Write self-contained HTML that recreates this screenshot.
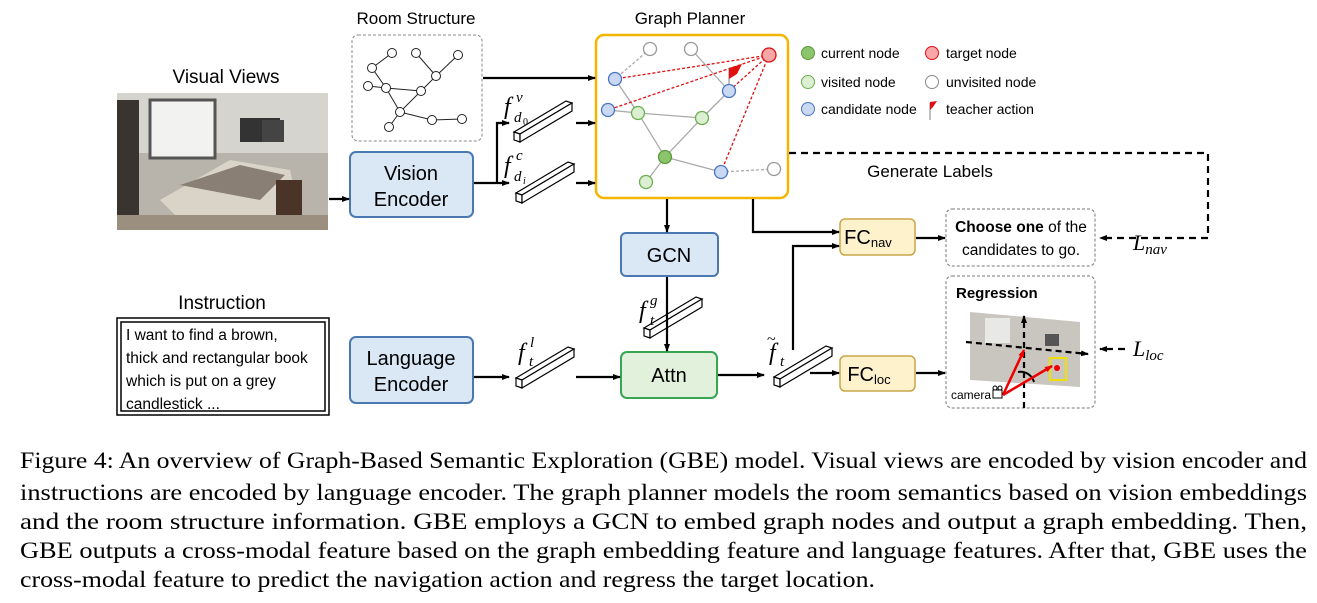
<!DOCTYPE html>
<html><head><meta charset="utf-8"><style>
html,body{margin:0;padding:0;background:#fff;}
svg{display:block}
.s{font-family:"Liberation Sans","DejaVu Sans",sans-serif;}
.r{font-family:"Liberation Serif",serif;}
</style></head><body>
<svg width="1317" height="603" viewBox="0 0 1317 603" xmlns="http://www.w3.org/2000/svg">
<defs>
<marker id="a" markerWidth="8" markerHeight="8" refX="7" refY="4" orient="auto" markerUnits="userSpaceOnUse"><path d="M0,1 L8,4 L0,7 z" fill="#000"/></marker>
<marker id="ar" markerWidth="8" markerHeight="8" refX="7" refY="4" orient="auto" markerUnits="userSpaceOnUse"><path d="M0,1 L8,4 L0,7 z" fill="#e00"/></marker>
</defs>
<g class="s" font-size="19" fill="#000" text-anchor="middle">
<text x="226" y="83">Visual Views</text>
<text x="416" y="24" font-size="17">Room Structure</text>
<text x="690" y="24" font-size="17">Graph Planner</text>
<text x="222" y="309">Instruction</text>
<text x="930" y="177" font-size="17">Generate Labels</text>
</g>
<!-- photo -->
<rect x="117" y="93" width="211" height="137" fill="#b9b4ab"/>
<rect x="117" y="93" width="211" height="60" fill="#d6d4cf"/>
<rect x="150" y="100" width="65" height="58" fill="#f2f3f1" stroke="#555" stroke-width="3"/>
<rect x="240" y="118" width="40" height="24" fill="#333"/>
<rect x="262" y="120" width="22" height="22" fill="#444"/>
<rect x="117" y="100" width="22" height="130" fill="#3a3430"/>
<path d="M160 200 L230 160 L290 170 L300 215 L190 230 Z" fill="#d9d3c8"/>
<path d="M180 185 L240 165 L285 175 L260 200 Z" fill="#8a7f74"/>
<rect x="276" y="180" width="26" height="38" fill="#4a3428"/>
<rect x="117" y="215" width="211" height="15" fill="#9b8f80"/>
<!-- room structure -->
<rect x="352" y="35" width="130" height="106" rx="6" fill="none" stroke="#888" stroke-dasharray="3,2"/>
<g stroke="#222" stroke-width="1" fill="none">
<path d="M392 53 L372 68 L386 88 M368 86 L386 88 L421 91 M386 88 L400 112 L421 91 L436 76 L416 53 M436 76 L458 55 M400 112 L389 127 M400 112 L432 120 L462 119"/>
</g>
<g fill="#fff" stroke="#222" stroke-width="1">
<circle cx="392" cy="53" r="4.5"/><circle cx="372" cy="68" r="4.5"/><circle cx="368" cy="86" r="4.5"/><circle cx="386" cy="88" r="4.5"/><circle cx="416" cy="53" r="4.5"/><circle cx="436" cy="76" r="4.5"/><circle cx="458" cy="55" r="4.5"/><circle cx="421" cy="91" r="4.5"/><circle cx="400" cy="112" r="4.5"/><circle cx="389" cy="127" r="4.5"/><circle cx="432" cy="120" r="4.5"/><circle cx="462" cy="119" r="4.5"/>
</g>
<!-- boxes -->
<g class="s" font-size="20" text-anchor="middle">
<rect x="350" y="152" width="123" height="65" rx="6" fill="#dae8f6" stroke="#4a78b0" stroke-width="2"/>
<text x="411" y="180">Vision</text><text x="411" y="206">Encoder</text>
<rect x="350" y="337" width="123" height="66" rx="6" fill="#dae8f6" stroke="#4a78b0" stroke-width="2"/>
<text x="411" y="365">Language</text><text x="411" y="391">Encoder</text>
<rect x="621" y="233" width="97" height="43" rx="5" fill="#dae8f6" stroke="#4a78b0" stroke-width="2"/>
<text x="669" y="262">GCN</text>
<rect x="621" y="352" width="96" height="46" rx="6" fill="#e2f1dc" stroke="#3aa455" stroke-width="2"/>
<text x="669" y="382">Attn</text>
<rect x="840" y="219" width="75" height="36" rx="5" fill="#fdf2cc" stroke="#c9a64a" stroke-width="1.5"/>
<text x="868" y="244">FC<tspan font-size="13" dy="3">nav</tspan></text>
<rect x="840" y="356" width="75" height="35" rx="5" fill="#fdf2cc" stroke="#c9a64a" stroke-width="1.5"/>
<text x="869" y="381">FC<tspan font-size="13" dy="3">loc</tspan></text>
</g>
<!-- instruction -->
<rect x="117" y="318" width="212" height="97" fill="#fff" stroke="#000" stroke-width="1.5"/>
<rect x="121" y="322" width="204" height="89" fill="none" stroke="#000" stroke-width="1.5"/>
<g class="s" font-size="15.5">
<text x="126" y="340">I want to find a brown,</text>
<text x="126" y="363">thick and rectangular book</text>
<text x="126" y="386">which is put on a grey</text>
<text x="126" y="409">candlestick ...</text>
</g>
<!-- graph planner -->
<rect x="596" y="35" width="192" height="163" rx="8" fill="#fff" stroke="#f2b600" stroke-width="2.5"/>
<g stroke="#aaa" stroke-width="1.3" fill="none">
<path d="M650 49 L615 79" stroke-dasharray="3,2"/>
<path d="M691 49 L729 91 M615 79 L638 113 M608 110 L638 113 L702 118 M638 113 L665 157 L702 118 L729 91 M665 157 L646 182 M665 157 L721 172"/>
<path d="M721 172 L774 169" stroke-dasharray="3,2"/>
</g>
<g stroke="#e01010" stroke-width="1.3" stroke-dasharray="3,2" fill="none">
<path d="M769 55 L615 79 M769 55 L608 110 M769 55 L729 91 M769 55 L721 172"/>
</g>
<line x1="729" y1="84" x2="729" y2="68" stroke="#aaa" stroke-width="1.5"/>
<path d="M729 68 L742 64 L737 74 L729 79 Z" fill="#e01010"/>
<g stroke-width="1.3">
<circle cx="650" cy="49" r="6.5" fill="#fff" stroke="#999"/>
<circle cx="691" cy="49" r="6.5" fill="#fff" stroke="#999"/>
<circle cx="774" cy="169" r="6.5" fill="#fff" stroke="#999"/>
<circle cx="769" cy="55" r="7" fill="#f8a6a6" stroke="#e01010"/>
<circle cx="615" cy="79" r="6.5" fill="#c9d9f2" stroke="#4a74c4"/>
<circle cx="608" cy="110" r="6.5" fill="#c9d9f2" stroke="#4a74c4"/>
<circle cx="729" cy="91" r="6.5" fill="#c9d9f2" stroke="#4a74c4"/>
<circle cx="721" cy="172" r="6.5" fill="#c9d9f2" stroke="#4a74c4"/>
<circle cx="638" cy="113" r="6.5" fill="#dcefd2" stroke="#6ab04c"/>
<circle cx="702" cy="118" r="6.5" fill="#dcefd2" stroke="#6ab04c"/>
<circle cx="646" cy="182" r="6.5" fill="#dcefd2" stroke="#6ab04c"/>
<circle cx="665" cy="157" r="6.5" fill="#8cc46b" stroke="#5a9a3c"/>
</g>
<!-- legend -->
<g class="s" font-size="14">
<circle cx="808" cy="53" r="6.5" fill="#8cc46b" stroke="#5a9a3c"/><text x="821" y="58">current node</text>
<circle cx="932" cy="53" r="6.5" fill="#f8a6a6" stroke="#e01010"/><text x="946" y="58">target node</text>
<circle cx="808" cy="82" r="6.5" fill="#dcefd2" stroke="#6ab04c"/><text x="821" y="87">visited node</text>
<circle cx="932" cy="82" r="6.5" fill="#fff" stroke="#888"/><text x="946" y="87">unvisited node</text>
<circle cx="808" cy="109" r="6.5" fill="#c9d9f2" stroke="#4a74c4"/><text x="821" y="114">candidate node</text>
<line x1="930" y1="103" x2="930" y2="120" stroke="#aaa" stroke-width="1.5"/><path d="M930 102 L937 101 L933 107 L930 110 Z" fill="#e01010"/>
<text x="946" y="114">teacher action</text>
</g>
<!-- feature bars -->
<g fill="#fff" stroke="#000" stroke-width="1.2">
<g id="bar"><path d="M514 132 L566 101 L572 103 L520 134 Z"/><path d="M514 132 L520 134 L520 142 L514 140 Z"/><path d="M520 134 L572 103 L572 111 L520 142 Z"/></g>
<use href="#bar" transform="translate(2,61)"/>
<use href="#bar" transform="translate(2,246)"/>
<use href="#bar" transform="translate(130,196)"/>
<use href="#bar" transform="translate(260,245)"/>
</g>
<g class="r" font-style="italic">
<text x="504" y="114" font-size="24">f</text><text x="516" y="102" font-size="15">v</text><text x="514" y="122" font-size="15">d</text><text x="523" y="125" font-size="10" font-style="normal">0</text>
<text x="504" y="173" font-size="24">f</text><text x="516" y="160" font-size="15">c</text><text x="514" y="181" font-size="15">d</text><text x="523" y="184" font-size="10">i</text>
<text x="518" y="360" font-size="24">f</text><text x="530" y="347" font-size="15">l</text><text x="529" y="366" font-size="15">t</text>
<text x="639" y="318" font-size="24">f</text><text x="650" y="305" font-size="15">g</text><text x="650" y="325" font-size="15">t</text>
<text x="769" y="360" font-size="24">f</text><text x="780" y="366" font-size="15">t</text><text x="767" y="344" font-size="16" font-style="normal">~</text>
<text x="1133" y="250" font-size="22">L<tspan font-size="15" dy="4">nav</tspan></text>
<text x="1133" y="356" font-size="22">L<tspan font-size="15" dy="4">loc</tspan></text>
</g>
<!-- arrows -->
<g stroke="#000" stroke-width="2.2" fill="none" marker-end="url(#a)">
<path d="M329 199 L349 199"/>
<path d="M483 78 L595 78"/>
<path d="M474 183 L509 183"/>
<path d="M497 183 L497 123 L509 123"/>
<path d="M576 123 L595 123"/>
<path d="M576 183 L595 183"/>
<path d="M667 199 L667 232"/>
<path d="M667 277 L667 351"/>
<path d="M474 377 L509 377"/>
<path d="M576 377 L620 377"/>
<path d="M718 375 L764 375"/>
<path d="M832 373 L839 373"/>
<path d="M753 199 L753 232 L839 232"/>
<path d="M793 350 L793 246 L839 246"/>
<path d="M916 238 L945 238"/>
<path d="M916 373 L945 373"/>
</g>
<path d="M810 373 L832 373" stroke="#000" stroke-width="2.2"/>
<g stroke="#000" stroke-width="2.2" fill="none" stroke-dasharray="7,5">
<path d="M789 153 L1208 153 L1208 238 L1100 238" marker-end="url(#a)"/>
<path d="M1125 349 L1100 349" marker-end="url(#a)"/>
</g>
<!-- output boxes -->
<rect x="946" y="209" width="149" height="57" rx="6" fill="#fff" stroke="#777" stroke-dasharray="3,2"/>
<g class="s" font-size="15.5" text-anchor="middle">
<text x="1021" y="232"><tspan font-weight="bold">Choose one</tspan> of the</text>
<text x="1021" y="255">candidates to go.</text>
</g>
<rect x="946" y="276" width="149" height="132" rx="6" fill="#fff" stroke="#777" stroke-dasharray="3,2"/>
<text x="956" y="298" class="s" font-size="15" font-weight="bold">Regression</text>
<path d="M970 312 L1080 322 L1080 387 L970 380 Z" fill="#c9c6c0"/>
<rect x="985" y="318" width="25" height="25" fill="#e8e8e6"/>
<rect x="1045" y="334" width="14" height="12" fill="#555"/>
<rect x="1050" y="358" width="16" height="22" fill="none" stroke="#f0e000" stroke-width="2"/>
<circle cx="1057" cy="368" r="3" fill="#e00"/>
<g stroke="#000" stroke-width="2.2" stroke-dasharray="6,4" fill="none">
<path d="M1024 408 L1024 316" marker-end="url(#a)"/>
<path d="M966 342 L1088 354" marker-end="url(#a)"/>
</g>
<path d="M1018 372 A14 14 0 0 1 1034 382" fill="none" stroke="#000" stroke-width="2"/>
<g stroke="#e00" stroke-width="2.5" fill="none" marker-end="url(#ar)">
<path d="M1003 395 L1024 350"/><path d="M1003 395 L1052 366"/>
</g>
<text x="951" y="399" class="s" font-size="12">camera</text>
<rect x="993" y="390" width="9" height="8" fill="none" stroke="#000"/><circle cx="995" cy="388" r="2" fill="none" stroke="#000"/><circle cx="1000" cy="388" r="2" fill="none" stroke="#000"/>
<!-- caption -->
<g class="r" font-size="23">
<text x="20" y="468" textLength="1287" lengthAdjust="spacingAndGlyphs">Figure 4: An overview of Graph-Based Semantic Exploration (GBE) model. Visual views are encoded by vision encoder and</text>
<text x="20" y="500" textLength="1287" lengthAdjust="spacingAndGlyphs">instructions are encoded by language encoder. The graph planner models the room semantics based on vision embeddings</text>
<text x="20" y="529" textLength="1287" lengthAdjust="spacingAndGlyphs">and the room structure information. GBE employs a GCN to embed graph nodes and output a graph embedding. Then,</text>
<text x="20" y="558" textLength="1287" lengthAdjust="spacingAndGlyphs">GBE outputs a cross-modal feature based on the graph embedding feature and language features. After that, GBE uses the</text>
<text x="20" y="587" textLength="855" lengthAdjust="spacingAndGlyphs">cross-modal feature to predict the navigation action and regress the target location.</text>
</g>
</svg>
</body></html>
